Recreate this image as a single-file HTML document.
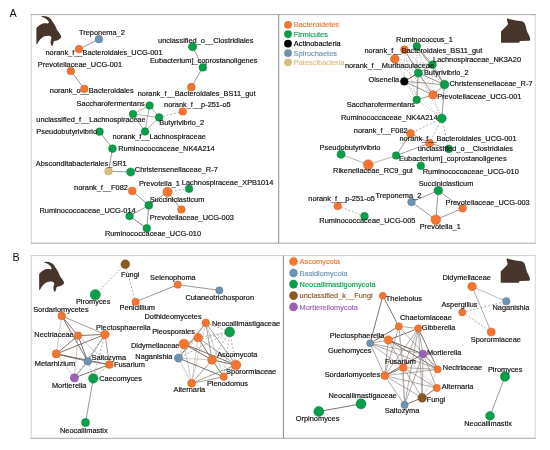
<!DOCTYPE html>
<html><head><meta charset="utf-8"><title>Figure</title>
<style>html,body{margin:0;padding:0;background:#fff}svg{display:block}text{font-family:"Liberation Sans",Arial,sans-serif}</style></head><body>
<svg width="550" height="450" viewBox="0 0 550 450">
<rect width="550" height="450" fill="#fff"/>
<g fill="none" stroke-width="1">
<line x1="31.3" y1="14" x2="31.3" y2="243.5" stroke="#d2d0d0"/>
<line x1="535.2" y1="14" x2="535.2" y2="243.5" stroke="#d6d4d4"/>
<line x1="30.8" y1="14.6" x2="535.7" y2="14.6" stroke="#a9a7a7"/>
<line x1="30.8" y1="243.2" x2="535.7" y2="243.2" stroke="#a9a7a7"/>
<line x1="278.7" y1="14.6" x2="278.7" y2="243.2" stroke="#8c8a8a"/>
<line x1="31.3" y1="255" x2="31.3" y2="438.8" stroke="#d2d0d0"/>
<line x1="535.2" y1="255" x2="535.2" y2="438.8" stroke="#d6d4d4"/>
<line x1="30.8" y1="255.6" x2="535.7" y2="255.6" stroke="#d0cece"/>
<line x1="30.8" y1="438.3" x2="535.7" y2="438.3" stroke="#a9a7a7"/>
<line x1="283.4" y1="255.6" x2="283.4" y2="438.3" stroke="#8c8a8a"/>
</g>
<text x="9.4" y="17.4" font-size="10.8" fill="#111">A</text>
<text x="12.5" y="260.8" font-size="10.8" fill="#111">B</text>
<path d="M193,105 C215,95 252,102 275,122 C292,138 300,158 312,172 C324,188 330,208 340,230 C350,250 370,268 377,285 C380,300 370,312 350,320 C335,326 318,326 310,332 C306,345 304,362 295,378 C284,370 278,352 281,330 C284,312 294,302 286,292 C272,278 245,280 225,287 C195,300 175,328 160,352 L150,364 L150,212 C160,200 175,187 190,179 C205,168 230,163 250,170 C260,172 268,165 262,152 C254,135 228,115 193,105 Z" fill="#47352c" transform="translate(20,5) scale(0.10909)"/>
<path d="M193,105 C215,95 252,102 275,122 C292,138 300,158 312,172 C324,188 330,208 340,230 C350,250 370,268 377,285 C380,300 370,312 350,320 C335,326 318,326 310,332 C306,345 304,362 295,378 C284,370 278,352 281,330 C284,312 294,302 286,292 C272,278 245,280 225,287 C195,300 175,328 160,352 L150,364 L150,212 C160,200 175,187 190,179 C205,168 230,163 250,170 C260,172 268,165 262,152 C254,135 228,115 193,105 Z" fill="#47352c" transform="translate(22.8,250.8) scale(0.10909)"/>
<path d="M172,103 C180,108 188,111 200,113 L260,125 L318,132 C335,136 347,150 352,165 C360,185 362,210 370,232 C378,250 392,275 400,298 C404,312 402,322 395,328 L300,331 L290,347 L110,347 L110,235 L165,180 C175,168 182,158 178,148 C172,135 165,120 172,103 Z" fill="#47352c" transform="translate(490,8) scale(0.1)"/>
<path d="M172,103 C180,108 188,111 200,113 L260,125 L318,132 C335,136 347,150 352,165 C360,185 362,210 370,232 C378,250 392,275 400,298 C404,312 402,322 395,328 L300,331 L290,347 L110,347 L110,235 L165,180 C175,168 182,158 178,148 C172,135 165,120 172,103 Z" fill="#47352c" transform="translate(489.7,248) scale(0.1)"/>
<g fill="none" stroke-linecap="butt">
<line x1="98.9" y1="39.2" x2="79.0" y2="49.1" stroke="#857d79" stroke-width="0.8"/>
<line x1="70.8" y1="71.0" x2="84.3" y2="88.9" stroke="#857d79" stroke-width="0.8"/>
<line x1="192.6" y1="46.7" x2="202.8" y2="67.4" stroke="#857d79" stroke-width="0.8"/>
<line x1="202.8" y1="67.4" x2="191.3" y2="87.1" stroke="#857d79" stroke-width="0.8"/>
<line x1="149.6" y1="105.5" x2="133" y2="114.1" stroke="#a09996" stroke-width="0.8"/>
<line x1="149.6" y1="105.5" x2="159.1" y2="117.4" stroke="#a09996" stroke-width="0.8"/>
<line x1="133" y1="114.1" x2="159.1" y2="117.4" stroke="#a09996" stroke-width="0.8"/>
<line x1="133" y1="114.1" x2="145" y2="131.5" stroke="#a09996" stroke-width="0.8"/>
<line x1="149.6" y1="105.5" x2="145" y2="131.5" stroke="#a09996" stroke-width="0.8"/>
<line x1="159.1" y1="117.4" x2="145" y2="131.5" stroke="#a09996" stroke-width="0.8"/>
<line x1="159.1" y1="117.4" x2="182.8" y2="111.5" stroke="#8f8884" stroke-width="0.7" stroke-dasharray="1.9 1.9"/>
<line x1="99.6" y1="131.7" x2="112.5" y2="148.6" stroke="#857d79" stroke-width="0.8"/>
<line x1="112.5" y1="148.6" x2="108.5" y2="171.2" stroke="#857d79" stroke-width="0.8"/>
<line x1="108.5" y1="171.2" x2="130.7" y2="172.0" stroke="#857d79" stroke-width="0.8"/>
<line x1="132.2" y1="190.9" x2="148.8" y2="205.3" stroke="#857d79" stroke-width="0.8"/>
<line x1="167.4" y1="191.9" x2="148.8" y2="205.3" stroke="#857d79" stroke-width="0.8"/>
<line x1="167.4" y1="191.9" x2="189.1" y2="188.8" stroke="#8f8884" stroke-width="0.7" stroke-dasharray="1.9 1.9"/>
<line x1="167.4" y1="191.9" x2="181.4" y2="209.5" stroke="#857d79" stroke-width="0.8"/>
<line x1="148.8" y1="205.3" x2="129.6" y2="216.1" stroke="#857d79" stroke-width="0.8"/>
<line x1="148.8" y1="205.3" x2="146.8" y2="228.3" stroke="#857d79" stroke-width="0.8"/>
<line x1="129.6" y1="216.1" x2="146.8" y2="228.3" stroke="#6b5f5a" stroke-width="0.8"/>
<line x1="341.1" y1="154.3" x2="368.3" y2="164.7" stroke="#a69f9b" stroke-width="0.8"/>
<line x1="368.3" y1="164.7" x2="396.1" y2="155.5" stroke="#a69f9b" stroke-width="0.8"/>
<line x1="396.1" y1="155.5" x2="410.5" y2="133.5" stroke="#857d79" stroke-width="0.8"/>
<line x1="396.1" y1="155.5" x2="429.6" y2="143.2" stroke="#857d79" stroke-width="0.8"/>
<line x1="410.5" y1="133.5" x2="429.6" y2="143.2" stroke="#857d79" stroke-width="0.8"/>
<line x1="429.6" y1="143.2" x2="448.8" y2="148.9" stroke="#857d79" stroke-width="0.8"/>
<line x1="441.8" y1="118.4" x2="444.5" y2="84.6" stroke="#857d79" stroke-width="0.8"/>
<line x1="404.3" y1="81.4" x2="444.5" y2="84.6" stroke="#857d79" stroke-width="0.8"/>
<line x1="418.4" y1="73.0" x2="416.7" y2="99.8" stroke="#857d79" stroke-width="0.8"/>
<line x1="418.4" y1="73.0" x2="433" y2="94.9" stroke="#857d79" stroke-width="0.8"/>
<line x1="432.6" y1="64.6" x2="418.4" y2="73.0" stroke="#857d79" stroke-width="0.8"/>
<line x1="432.6" y1="64.6" x2="444.5" y2="84.6" stroke="#857d79" stroke-width="0.8"/>
<line x1="404.3" y1="81.4" x2="433" y2="94.9" stroke="#857d79" stroke-width="0.8"/>
<line x1="444.5" y1="84.6" x2="433" y2="94.9" stroke="#857d79" stroke-width="0.8"/>
<line x1="416.7" y1="99.8" x2="433" y2="94.9" stroke="#857d79" stroke-width="0.8"/>
<line x1="404.4" y1="49.7" x2="418.4" y2="73.0" stroke="#857d79" stroke-width="0.8"/>
<line x1="416.8" y1="46.2" x2="444.5" y2="84.6" stroke="#857d79" stroke-width="0.8"/>
<line x1="416.8" y1="46.2" x2="432.6" y2="64.6" stroke="#857d79" stroke-width="0.8"/>
<line x1="438.3" y1="190.5" x2="411.5" y2="202.0" stroke="#857d79" stroke-width="0.8"/>
<line x1="438.3" y1="190.5" x2="435.8" y2="219.8" stroke="#857d79" stroke-width="0.8"/>
<line x1="438.3" y1="190.5" x2="462.6" y2="208.3" stroke="#857d79" stroke-width="0.8"/>
<line x1="411.5" y1="202.0" x2="435.8" y2="219.8" stroke="#857d79" stroke-width="0.8"/>
<line x1="435.8" y1="219.8" x2="462.6" y2="208.3" stroke="#857d79" stroke-width="0.8"/>
<line x1="418.4" y1="73.0" x2="444.5" y2="84.6" stroke="#857d79" stroke-width="0.8"/>
<line x1="404.3" y1="81.4" x2="418.4" y2="73.0" stroke="#4a3f3a" stroke-width="0.9"/>
<line x1="337.7" y1="206.0" x2="364.5" y2="216.2" stroke="#8f8884" stroke-width="0.7" stroke-dasharray="1.9 1.9"/>
<line x1="441.8" y1="118.4" x2="410.5" y2="133.5" stroke="#8f8884" stroke-width="0.7" stroke-dasharray="1.9 1.9"/>
<line x1="441.8" y1="118.4" x2="429.6" y2="143.2" stroke="#8f8884" stroke-width="0.7" stroke-dasharray="1.9 1.9"/>
<line x1="441.8" y1="118.4" x2="448.8" y2="148.9" stroke="#8f8884" stroke-width="0.7" stroke-dasharray="1.9 1.9"/>
<line x1="441.8" y1="118.4" x2="418.4" y2="73.0" stroke="#9a938f" stroke-width="0.55" stroke-dasharray="1.3 1.5"/>
<line x1="441.8" y1="118.4" x2="404.3" y2="81.4" stroke="#9a938f" stroke-width="0.55" stroke-dasharray="1.3 1.5"/>
<line x1="441.8" y1="118.4" x2="416.7" y2="99.8" stroke="#9a938f" stroke-width="0.55" stroke-dasharray="1.3 1.5"/>
<line x1="394.8" y1="59.0" x2="418.4" y2="73.0" stroke="#9a938f" stroke-width="0.55" stroke-dasharray="1.3 1.5"/>
<line x1="394.8" y1="59.0" x2="416.7" y2="99.8" stroke="#9a938f" stroke-width="0.55" stroke-dasharray="1.3 1.5"/>
<line x1="404.4" y1="49.7" x2="433" y2="94.9" stroke="#9a938f" stroke-width="0.55" stroke-dasharray="1.3 1.5"/>
<line x1="404.4" y1="49.7" x2="416.7" y2="99.8" stroke="#9a938f" stroke-width="0.55" stroke-dasharray="1.3 1.5"/>
<line x1="416.8" y1="46.2" x2="433" y2="94.9" stroke="#9a938f" stroke-width="0.55" stroke-dasharray="1.3 1.5"/>
<line x1="404.3" y1="81.4" x2="416.7" y2="99.8" stroke="#9a938f" stroke-width="0.55" stroke-dasharray="1.3 1.5"/>
<line x1="394.8" y1="59.0" x2="432.6" y2="64.6" stroke="#9a938f" stroke-width="0.55" stroke-dasharray="1.3 1.5"/>
<line x1="404.4" y1="49.7" x2="444.5" y2="84.6" stroke="#9a938f" stroke-width="0.55" stroke-dasharray="1.3 1.5"/>
<line x1="416.8" y1="46.2" x2="416.7" y2="99.8" stroke="#9a938f" stroke-width="0.55" stroke-dasharray="1.3 1.5"/>
<line x1="441.8" y1="118.4" x2="433" y2="94.9" stroke="#9a938f" stroke-width="0.55" stroke-dasharray="1.3 1.5"/>
<line x1="394.8" y1="59.0" x2="433" y2="94.9" stroke="#9a938f" stroke-width="0.55" stroke-dasharray="1.3 1.5"/>
<line x1="432.6" y1="64.6" x2="433" y2="94.9" stroke="#9a938f" stroke-width="0.55" stroke-dasharray="1.3 1.5"/>
<line x1="404.4" y1="49.7" x2="404.3" y2="81.4" stroke="#9a938f" stroke-width="0.55" stroke-dasharray="1.3 1.5"/>
<line x1="125.3" y1="264.2" x2="95.3" y2="294.6" stroke="#8f8884" stroke-width="0.7" stroke-dasharray="1.9 1.9"/>
<line x1="125.3" y1="264.2" x2="135.6" y2="301.9" stroke="#8f8884" stroke-width="0.7" stroke-dasharray="1.9 1.9"/>
<line x1="135.6" y1="301.9" x2="177.7" y2="284.7" stroke="#857d79" stroke-width="0.8"/>
<line x1="177.7" y1="284.7" x2="219.4" y2="290.3" stroke="#857d79" stroke-width="0.8"/>
<line x1="93.3" y1="378.4" x2="85.5" y2="422.5" stroke="#857d79" stroke-width="0.8"/>
<line x1="61.7" y1="315.9" x2="78" y2="335.6" stroke="#5f4f49" stroke-width="0.8"/>
<line x1="61.7" y1="315.9" x2="105" y2="334.4" stroke="#7d736e" stroke-width="0.7"/>
<line x1="61.7" y1="315.9" x2="56.3" y2="353.9" stroke="#bdb7b3" stroke-width="0.7"/>
<line x1="61.7" y1="315.9" x2="87.7" y2="361.3" stroke="#5f4f49" stroke-width="0.8"/>
<line x1="78" y1="335.6" x2="105" y2="334.4" stroke="#5f4f49" stroke-width="0.8"/>
<line x1="78" y1="335.6" x2="56.3" y2="353.9" stroke="#5f4f49" stroke-width="0.8"/>
<line x1="78" y1="335.6" x2="87.7" y2="361.3" stroke="#5f4f49" stroke-width="0.8"/>
<line x1="78" y1="335.6" x2="109.4" y2="364.6" stroke="#bdb7b3" stroke-width="0.7"/>
<line x1="78" y1="335.6" x2="74.4" y2="377.9" stroke="#bdb7b3" stroke-width="0.7"/>
<line x1="105" y1="334.4" x2="56.3" y2="353.9" stroke="#5f4f49" stroke-width="0.8"/>
<line x1="105" y1="334.4" x2="87.7" y2="361.3" stroke="#7d736e" stroke-width="0.7"/>
<line x1="105" y1="334.4" x2="109.4" y2="364.6" stroke="#7d736e" stroke-width="0.7"/>
<line x1="56.3" y1="353.9" x2="87.7" y2="361.3" stroke="#5f4f49" stroke-width="0.8"/>
<line x1="56.3" y1="353.9" x2="109.4" y2="364.6" stroke="#5f4f49" stroke-width="0.8"/>
<line x1="56.3" y1="353.9" x2="74.4" y2="377.9" stroke="#bdb7b3" stroke-width="0.7"/>
<line x1="87.7" y1="361.3" x2="74.4" y2="377.9" stroke="#7d736e" stroke-width="0.7"/>
<line x1="87.7" y1="361.3" x2="109.4" y2="364.6" stroke="#7d736e" stroke-width="0.7"/>
<line x1="109.4" y1="364.6" x2="74.4" y2="377.9" stroke="#5f4f49" stroke-width="0.8"/>
<line x1="105" y1="334.4" x2="74.4" y2="377.9" stroke="#8f8884" stroke-width="0.7" stroke-dasharray="1.9 1.9"/>
<line x1="105" y1="334.4" x2="93.3" y2="378.4" stroke="#8f8884" stroke-width="0.7" stroke-dasharray="1.9 1.9"/>
<line x1="87.7" y1="361.3" x2="93.3" y2="378.4" stroke="#8f8884" stroke-width="0.7" stroke-dasharray="1.9 1.9"/>
<line x1="109.4" y1="364.6" x2="93.3" y2="378.4" stroke="#8f8884" stroke-width="0.7" stroke-dasharray="1.9 1.9"/>
<line x1="205.8" y1="322.8" x2="178.5" y2="358.1" stroke="#5f4f49" stroke-width="0.8"/>
<line x1="205.8" y1="322.8" x2="212" y2="359.9" stroke="#7d736e" stroke-width="0.7"/>
<line x1="205.8" y1="322.8" x2="236" y2="365.0" stroke="#7d736e" stroke-width="0.7"/>
<line x1="205.8" y1="322.8" x2="191.6" y2="383.3" stroke="#bdb7b3" stroke-width="0.7"/>
<line x1="205.8" y1="322.8" x2="223.7" y2="376.8" stroke="#bdb7b3" stroke-width="0.7"/>
<line x1="198.1" y1="337.5" x2="184" y2="344.0" stroke="#bdb7b3" stroke-width="0.7"/>
<line x1="198.1" y1="337.5" x2="212" y2="359.9" stroke="#5f4f49" stroke-width="0.8"/>
<line x1="198.1" y1="337.5" x2="191.6" y2="383.3" stroke="#bdb7b3" stroke-width="0.7"/>
<line x1="184" y1="344.0" x2="212" y2="359.9" stroke="#5f4f49" stroke-width="0.8"/>
<line x1="184" y1="344.0" x2="236" y2="365.0" stroke="#5f4f49" stroke-width="0.8"/>
<line x1="184" y1="344.0" x2="191.6" y2="383.3" stroke="#bdb7b3" stroke-width="0.7"/>
<line x1="178.5" y1="358.1" x2="223.7" y2="376.8" stroke="#5f4f49" stroke-width="0.8"/>
<line x1="178.5" y1="358.1" x2="191.6" y2="383.3" stroke="#bdb7b3" stroke-width="0.7"/>
<line x1="178.5" y1="358.1" x2="212" y2="359.9" stroke="#bdb7b3" stroke-width="0.7"/>
<line x1="212" y1="359.9" x2="236" y2="365.0" stroke="#5f4f49" stroke-width="0.8"/>
<line x1="212" y1="359.9" x2="223.7" y2="376.8" stroke="#5f4f49" stroke-width="0.8"/>
<line x1="212" y1="359.9" x2="191.6" y2="383.3" stroke="#7d736e" stroke-width="0.7"/>
<line x1="236" y1="365.0" x2="223.7" y2="376.8" stroke="#7d736e" stroke-width="0.7"/>
<line x1="223.7" y1="376.8" x2="191.6" y2="383.3" stroke="#7d736e" stroke-width="0.7"/>
<line x1="191.6" y1="383.3" x2="236" y2="365.0" stroke="#7d736e" stroke-width="0.7"/>
<line x1="198.1" y1="337.5" x2="236" y2="365.0" stroke="#7d736e" stroke-width="0.7"/>
<line x1="229.7" y1="331.9" x2="198.1" y2="337.5" stroke="#8f8884" stroke-width="0.7" stroke-dasharray="1.9 1.9"/>
<line x1="229.7" y1="331.9" x2="184" y2="344.0" stroke="#8f8884" stroke-width="0.7" stroke-dasharray="1.9 1.9"/>
<line x1="229.7" y1="331.9" x2="212" y2="359.9" stroke="#8f8884" stroke-width="0.7" stroke-dasharray="1.9 1.9"/>
<line x1="229.7" y1="331.9" x2="236" y2="365.0" stroke="#8f8884" stroke-width="0.7" stroke-dasharray="1.9 1.9"/>
<line x1="229.7" y1="331.9" x2="223.7" y2="376.8" stroke="#8f8884" stroke-width="0.7" stroke-dasharray="1.9 1.9"/>
<line x1="229.7" y1="331.9" x2="205.8" y2="322.8" stroke="#8f8884" stroke-width="0.7" stroke-dasharray="1.9 1.9"/>
<line x1="229.7" y1="331.9" x2="178.5" y2="358.1" stroke="#8f8884" stroke-width="0.7" stroke-dasharray="1.9 1.9"/>
<line x1="184" y1="344.0" x2="178.5" y2="358.1" stroke="#8f8884" stroke-width="0.7" stroke-dasharray="1.9 1.9"/>
<line x1="198.1" y1="337.5" x2="178.5" y2="358.1" stroke="#8f8884" stroke-width="0.7" stroke-dasharray="1.9 1.9"/>
<line x1="318.8" y1="411.5" x2="361" y2="403.9" stroke="#5f4f49" stroke-width="0.8"/>
<line x1="472.1" y1="286.5" x2="506.3" y2="301.3" stroke="#a39c98" stroke-width="0.7"/>
<line x1="472.1" y1="286.5" x2="491.2" y2="332.0" stroke="#8f8884" stroke-width="0.7"/>
<line x1="462.3" y1="312.3" x2="506.3" y2="301.3" stroke="#8f8884" stroke-width="0.7" stroke-dasharray="1.9 1.9"/>
<line x1="462.3" y1="312.3" x2="491.2" y2="332.0" stroke="#8f8884" stroke-width="0.7" stroke-dasharray="1.9 1.9"/>
<line x1="505" y1="376.6" x2="490" y2="415.9" stroke="#857d79" stroke-width="0.8"/>
<line x1="382.8" y1="295.8" x2="370.1" y2="343.3" stroke="#5f4f49" stroke-width="0.8"/>
<line x1="382.8" y1="295.8" x2="398.8" y2="326.4" stroke="#5f4f49" stroke-width="0.8"/>
<line x1="398.8" y1="326.4" x2="370.1" y2="343.3" stroke="#5f4f49" stroke-width="0.8"/>
<line x1="418.3" y1="328.4" x2="388.3" y2="340.0" stroke="#5f4f49" stroke-width="0.8"/>
<line x1="388.3" y1="340.0" x2="423" y2="354.0" stroke="#3a2d28" stroke-width="0.8"/>
<line x1="388.3" y1="340.0" x2="437.8" y2="369.4" stroke="#5f4f49" stroke-width="0.8"/>
<line x1="388.3" y1="340.0" x2="370.1" y2="343.3" stroke="#7d736e" stroke-width="0.6"/>
<line x1="398.8" y1="326.4" x2="418.3" y2="328.4" stroke="#7d736e" stroke-width="0.6"/>
<line x1="398.8" y1="326.4" x2="403.2" y2="367.6" stroke="#7d736e" stroke-width="0.6"/>
<line x1="398.8" y1="326.4" x2="384.7" y2="375.7" stroke="#7d736e" stroke-width="0.6"/>
<line x1="398.8" y1="326.4" x2="437.8" y2="369.4" stroke="#7d736e" stroke-width="0.6"/>
<line x1="398.8" y1="326.4" x2="404.6" y2="404.9" stroke="#bdb7b3" stroke-width="0.6"/>
<line x1="418.3" y1="328.4" x2="437.8" y2="369.4" stroke="#5f4f49" stroke-width="0.8"/>
<line x1="418.3" y1="328.4" x2="403.2" y2="367.6" stroke="#7d736e" stroke-width="0.6"/>
<line x1="418.3" y1="328.4" x2="384.7" y2="375.7" stroke="#7d736e" stroke-width="0.6"/>
<line x1="418.3" y1="328.4" x2="404.6" y2="404.9" stroke="#7d736e" stroke-width="0.6"/>
<line x1="418.3" y1="328.4" x2="422.2" y2="397.8" stroke="#7d736e" stroke-width="0.6"/>
<line x1="418.3" y1="328.4" x2="423" y2="354.0" stroke="#7d736e" stroke-width="0.6"/>
<line x1="370.1" y1="343.3" x2="423" y2="354.0" stroke="#7d736e" stroke-width="0.6"/>
<line x1="370.1" y1="343.3" x2="403.2" y2="367.6" stroke="#7d736e" stroke-width="0.6"/>
<line x1="370.1" y1="343.3" x2="384.7" y2="375.7" stroke="#7d736e" stroke-width="0.6"/>
<line x1="370.1" y1="343.3" x2="437.8" y2="369.4" stroke="#7d736e" stroke-width="0.6"/>
<line x1="388.3" y1="340.0" x2="384.7" y2="375.7" stroke="#7d736e" stroke-width="0.6"/>
<line x1="388.3" y1="340.0" x2="403.2" y2="367.6" stroke="#7d736e" stroke-width="0.6"/>
<line x1="384.7" y1="375.7" x2="403.2" y2="367.6" stroke="#5f4f49" stroke-width="0.8"/>
<line x1="384.7" y1="375.7" x2="423" y2="354.0" stroke="#5f4f49" stroke-width="0.8"/>
<line x1="384.7" y1="375.7" x2="437.8" y2="369.4" stroke="#7d736e" stroke-width="0.6"/>
<line x1="384.7" y1="375.7" x2="436.8" y2="388.0" stroke="#7d736e" stroke-width="0.6"/>
<line x1="384.7" y1="375.7" x2="422.2" y2="397.8" stroke="#7d736e" stroke-width="0.6"/>
<line x1="384.7" y1="375.7" x2="404.6" y2="404.9" stroke="#7d736e" stroke-width="0.6"/>
<line x1="403.2" y1="367.6" x2="437.8" y2="369.4" stroke="#7d736e" stroke-width="0.6"/>
<line x1="403.2" y1="367.6" x2="436.8" y2="388.0" stroke="#7d736e" stroke-width="0.6"/>
<line x1="403.2" y1="367.6" x2="422.2" y2="397.8" stroke="#7d736e" stroke-width="0.6"/>
<line x1="403.2" y1="367.6" x2="404.6" y2="404.9" stroke="#7d736e" stroke-width="0.6"/>
<line x1="423" y1="354.0" x2="437.8" y2="369.4" stroke="#7d736e" stroke-width="0.6"/>
<line x1="423" y1="354.0" x2="422.2" y2="397.8" stroke="#7d736e" stroke-width="0.6"/>
<line x1="423" y1="354.0" x2="404.6" y2="404.9" stroke="#7d736e" stroke-width="0.6"/>
<line x1="423" y1="354.0" x2="436.8" y2="388.0" stroke="#7d736e" stroke-width="0.6"/>
<line x1="436.8" y1="388.0" x2="422.2" y2="397.8" stroke="#5f4f49" stroke-width="0.8"/>
<line x1="422.2" y1="397.8" x2="404.6" y2="404.9" stroke="#5f4f49" stroke-width="0.8"/>
<line x1="437.8" y1="369.4" x2="422.2" y2="397.8" stroke="#bdb7b3" stroke-width="0.6"/>
<line x1="388.3" y1="340.0" x2="436.8" y2="388.0" stroke="#bdb7b3" stroke-width="0.6"/>
</g>
<g>
<circle cx="98.9" cy="39.2" r="3.85" fill="#6E93B0" stroke="#4f728f" stroke-width="0.45"/>
<circle cx="79.0" cy="49.1" r="3.85" fill="#F4752F" stroke="#cf5a1c" stroke-width="0.45"/>
<circle cx="70.8" cy="71.0" r="3.85" fill="#F4752F" stroke="#cf5a1c" stroke-width="0.45"/>
<circle cx="84.3" cy="88.9" r="3.85" fill="#F4752F" stroke="#cf5a1c" stroke-width="0.45"/>
<circle cx="192.6" cy="46.7" r="4.15" fill="#0A9E49" stroke="#0a7d3b" stroke-width="0.45"/>
<circle cx="202.8" cy="67.4" r="3.85" fill="#0A9E49" stroke="#0a7d3b" stroke-width="0.45"/>
<circle cx="191.3" cy="87.1" r="3.95" fill="#F4752F" stroke="#cf5a1c" stroke-width="0.45"/>
<circle cx="149.6" cy="105.5" r="3.85" fill="#0A9E49" stroke="#0a7d3b" stroke-width="0.45"/>
<circle cx="133" cy="114.1" r="3.85" fill="#0A9E49" stroke="#0a7d3b" stroke-width="0.45"/>
<circle cx="159.1" cy="117.4" r="3.85" fill="#0A9E49" stroke="#0a7d3b" stroke-width="0.45"/>
<circle cx="145" cy="131.5" r="3.85" fill="#0A9E49" stroke="#0a7d3b" stroke-width="0.45"/>
<circle cx="182.8" cy="111.5" r="3.85" fill="#F4752F" stroke="#cf5a1c" stroke-width="0.45"/>
<circle cx="99.6" cy="131.7" r="3.85" fill="#0A9E49" stroke="#0a7d3b" stroke-width="0.45"/>
<circle cx="112.5" cy="148.6" r="3.95" fill="#0A9E49" stroke="#0a7d3b" stroke-width="0.45"/>
<circle cx="108.5" cy="171.2" r="3.85" fill="#D6BD82" stroke="#b59c63" stroke-width="0.45"/>
<circle cx="130.7" cy="172.0" r="4.05" fill="#0A9E49" stroke="#0a7d3b" stroke-width="0.45"/>
<circle cx="132.2" cy="190.9" r="3.95" fill="#F4752F" stroke="#cf5a1c" stroke-width="0.45"/>
<circle cx="167.4" cy="191.9" r="4.65" fill="#F4752F" stroke="#cf5a1c" stroke-width="0.45"/>
<circle cx="189.1" cy="188.8" r="3.85" fill="#0A9E49" stroke="#0a7d3b" stroke-width="0.45"/>
<circle cx="148.8" cy="205.3" r="3.95" fill="#0A9E49" stroke="#0a7d3b" stroke-width="0.45"/>
<circle cx="181.4" cy="209.5" r="3.85" fill="#F4752F" stroke="#cf5a1c" stroke-width="0.45"/>
<circle cx="129.6" cy="216.1" r="3.85" fill="#0A9E49" stroke="#0a7d3b" stroke-width="0.45"/>
<circle cx="146.8" cy="228.3" r="3.85" fill="#0A9E49" stroke="#0a7d3b" stroke-width="0.45"/>
<circle cx="416.8" cy="46.2" r="3.85" fill="#0A9E49" stroke="#0a7d3b" stroke-width="0.45"/>
<circle cx="404.4" cy="49.7" r="3.95" fill="#F4752F" stroke="#cf5a1c" stroke-width="0.45"/>
<circle cx="394.8" cy="59.0" r="4.35" fill="#F4752F" stroke="#cf5a1c" stroke-width="0.45"/>
<circle cx="432.6" cy="64.6" r="3.85" fill="#0A9E49" stroke="#0a7d3b" stroke-width="0.45"/>
<circle cx="418.4" cy="73.0" r="4.05" fill="#0A9E49" stroke="#0a7d3b" stroke-width="0.45"/>
<circle cx="404.3" cy="81.4" r="3.85" fill="#000000" stroke="#000000" stroke-width="0.45"/>
<circle cx="444.5" cy="84.6" r="4.45" fill="#0A9E49" stroke="#0a7d3b" stroke-width="0.45"/>
<circle cx="433" cy="94.9" r="4.05" fill="#F4752F" stroke="#cf5a1c" stroke-width="0.45"/>
<circle cx="416.7" cy="99.8" r="3.85" fill="#0A9E49" stroke="#0a7d3b" stroke-width="0.45"/>
<circle cx="441.8" cy="118.4" r="4.45" fill="#0A9E49" stroke="#0a7d3b" stroke-width="0.45"/>
<circle cx="410.5" cy="133.5" r="3.95" fill="#F4752F" stroke="#cf5a1c" stroke-width="0.45"/>
<circle cx="429.6" cy="143.2" r="3.85" fill="#F4752F" stroke="#cf5a1c" stroke-width="0.45"/>
<circle cx="448.8" cy="148.9" r="3.85" fill="#0A9E49" stroke="#0a7d3b" stroke-width="0.45"/>
<circle cx="396.1" cy="155.5" r="3.85" fill="#0A9E49" stroke="#0a7d3b" stroke-width="0.45"/>
<circle cx="420.8" cy="165.8" r="3.85" fill="#0A9E49" stroke="#0a7d3b" stroke-width="0.45"/>
<circle cx="341.1" cy="154.3" r="4.05" fill="#0A9E49" stroke="#0a7d3b" stroke-width="0.45"/>
<circle cx="368.3" cy="164.7" r="4.95" fill="#F4752F" stroke="#cf5a1c" stroke-width="0.45"/>
<circle cx="438.3" cy="190.5" r="4.35" fill="#0A9E49" stroke="#0a7d3b" stroke-width="0.45"/>
<circle cx="411.5" cy="202.0" r="3.85" fill="#6E93B0" stroke="#4f728f" stroke-width="0.45"/>
<circle cx="462.6" cy="208.3" r="3.85" fill="#F4752F" stroke="#cf5a1c" stroke-width="0.45"/>
<circle cx="435.8" cy="219.8" r="4.85" fill="#F4752F" stroke="#cf5a1c" stroke-width="0.45"/>
<circle cx="337.7" cy="206.0" r="3.85" fill="#F4752F" stroke="#cf5a1c" stroke-width="0.45"/>
<circle cx="364.5" cy="216.2" r="3.85" fill="#0A9E49" stroke="#0a7d3b" stroke-width="0.45"/>
<circle cx="125.3" cy="264.2" r="4.35" fill="#8A5A25" stroke="#6b431a" stroke-width="0.45"/>
<circle cx="95.3" cy="294.6" r="5.15" fill="#0A9E49" stroke="#0a7d3b" stroke-width="0.45"/>
<circle cx="135.6" cy="301.9" r="3.65" fill="#F4752F" stroke="#cf5a1c" stroke-width="0.45"/>
<circle cx="177.7" cy="284.7" r="3.65" fill="#F4752F" stroke="#cf5a1c" stroke-width="0.45"/>
<circle cx="219.4" cy="290.3" r="3.65" fill="#6E93B0" stroke="#4f728f" stroke-width="0.45"/>
<circle cx="61.7" cy="315.9" r="3.85" fill="#F4752F" stroke="#cf5a1c" stroke-width="0.45"/>
<circle cx="78" cy="335.6" r="3.85" fill="#F4752F" stroke="#cf5a1c" stroke-width="0.45"/>
<circle cx="105" cy="334.4" r="4.25" fill="#F4752F" stroke="#cf5a1c" stroke-width="0.45"/>
<circle cx="56.3" cy="353.9" r="4.05" fill="#F4752F" stroke="#cf5a1c" stroke-width="0.45"/>
<circle cx="87.7" cy="361.3" r="3.85" fill="#6E93B0" stroke="#4f728f" stroke-width="0.45"/>
<circle cx="109.4" cy="364.6" r="3.95" fill="#F4752F" stroke="#cf5a1c" stroke-width="0.45"/>
<circle cx="74.4" cy="377.9" r="4.05" fill="#9C60B8" stroke="#7c4796" stroke-width="0.45"/>
<circle cx="93.3" cy="378.4" r="4.75" fill="#0A9E49" stroke="#0a7d3b" stroke-width="0.45"/>
<circle cx="85.5" cy="422.5" r="4.05" fill="#0A9E49" stroke="#0a7d3b" stroke-width="0.45"/>
<circle cx="205.8" cy="322.8" r="3.85" fill="#F4752F" stroke="#cf5a1c" stroke-width="0.45"/>
<circle cx="229.7" cy="331.9" r="4.95" fill="#0A9E49" stroke="#0a7d3b" stroke-width="0.45"/>
<circle cx="198.1" cy="337.5" r="4.25" fill="#F4752F" stroke="#cf5a1c" stroke-width="0.45"/>
<circle cx="184" cy="344.0" r="4.85" fill="#F4752F" stroke="#cf5a1c" stroke-width="0.45"/>
<circle cx="178.5" cy="358.1" r="4.15" fill="#6E93B0" stroke="#4f728f" stroke-width="0.45"/>
<circle cx="212" cy="359.9" r="4.45" fill="#F4752F" stroke="#cf5a1c" stroke-width="0.45"/>
<circle cx="236" cy="365.0" r="4.85" fill="#F4752F" stroke="#cf5a1c" stroke-width="0.45"/>
<circle cx="223.7" cy="376.8" r="3.75" fill="#F4752F" stroke="#cf5a1c" stroke-width="0.45"/>
<circle cx="191.6" cy="383.3" r="3.95" fill="#F4752F" stroke="#cf5a1c" stroke-width="0.45"/>
<circle cx="382.8" cy="295.8" r="3.55" fill="#F4752F" stroke="#cf5a1c" stroke-width="0.45"/>
<circle cx="398.8" cy="326.4" r="3.55" fill="#F4752F" stroke="#cf5a1c" stroke-width="0.45"/>
<circle cx="418.3" cy="328.4" r="3.55" fill="#F4752F" stroke="#cf5a1c" stroke-width="0.45"/>
<circle cx="388.3" cy="340.0" r="4.15" fill="#F4752F" stroke="#cf5a1c" stroke-width="0.45"/>
<circle cx="370.1" cy="343.3" r="3.55" fill="#6E93B0" stroke="#4f728f" stroke-width="0.45"/>
<circle cx="423" cy="354.0" r="3.85" fill="#9C60B8" stroke="#7c4796" stroke-width="0.45"/>
<circle cx="403.2" cy="367.6" r="3.85" fill="#F4752F" stroke="#cf5a1c" stroke-width="0.45"/>
<circle cx="437.8" cy="369.4" r="3.55" fill="#F4752F" stroke="#cf5a1c" stroke-width="0.45"/>
<circle cx="384.7" cy="375.7" r="3.85" fill="#F4752F" stroke="#cf5a1c" stroke-width="0.45"/>
<circle cx="436.8" cy="388.0" r="3.65" fill="#F4752F" stroke="#cf5a1c" stroke-width="0.45"/>
<circle cx="422.2" cy="397.8" r="4.35" fill="#8A5A25" stroke="#6b431a" stroke-width="0.45"/>
<circle cx="404.6" cy="404.9" r="3.65" fill="#6E93B0" stroke="#4f728f" stroke-width="0.45"/>
<circle cx="361" cy="403.9" r="5.05" fill="#0A9E49" stroke="#0a7d3b" stroke-width="0.45"/>
<circle cx="318.8" cy="411.5" r="5.05" fill="#0A9E49" stroke="#0a7d3b" stroke-width="0.45"/>
<circle cx="472.1" cy="286.5" r="4.35" fill="#F4752F" stroke="#cf5a1c" stroke-width="0.45"/>
<circle cx="506.3" cy="301.3" r="3.75" fill="#6E93B0" stroke="#4f728f" stroke-width="0.45"/>
<circle cx="462.3" cy="312.3" r="3.65" fill="#F4752F" stroke="#cf5a1c" stroke-width="0.45"/>
<circle cx="491.2" cy="332.0" r="4.05" fill="#F4752F" stroke="#cf5a1c" stroke-width="0.45"/>
<circle cx="505" cy="376.6" r="4.75" fill="#0A9E49" stroke="#0a7d3b" stroke-width="0.45"/>
<circle cx="490" cy="415.9" r="4.45" fill="#0A9E49" stroke="#0a7d3b" stroke-width="0.45"/>
</g>
<circle cx="288" cy="24.8" r="3.9" fill="#F4752F"/><text x="293.8" y="27.4" font-size="7.4" fill="#F4752F" stroke="#F4752F" stroke-width="0.15">Bacteroidetes</text>
<circle cx="288" cy="34.1" r="3.9" fill="#0A9E49"/><text x="293.8" y="36.7" font-size="7.4" fill="#0A9E49" stroke="#0A9E49" stroke-width="0.15">Firmicutes</text>
<circle cx="288" cy="43.6" r="3.9" fill="#000000"/><text x="293.8" y="46.2" font-size="7.4" fill="#000000" stroke="#000000" stroke-width="0.15">Actinobacteria</text>
<circle cx="288" cy="53.1" r="3.9" fill="#6E93B0"/><text x="293.8" y="55.7" font-size="7.4" fill="#6E93B0" stroke="#6E93B0" stroke-width="0.15">Spirochaetes</text>
<circle cx="288" cy="62.3" r="3.9" fill="#D6BD82"/><text x="293.8" y="64.9" font-size="7.4" fill="#D6BD82" stroke="#D6BD82" stroke-width="0.15">Patescibacteria</text>
<circle cx="293.5" cy="261.5" r="4.3" fill="#F4752F"/><text x="299.6" y="264.1" font-size="7.4" fill="#F4752F" stroke="#F4752F" stroke-width="0.15">Ascomycota</text>
<circle cx="293.5" cy="273" r="4.3" fill="#6E93B0"/><text x="299.6" y="275.6" font-size="7.4" fill="#6E93B0" stroke="#6E93B0" stroke-width="0.15">Basidiomycota</text>
<circle cx="293.5" cy="284.1" r="4.3" fill="#0A9E49"/><text x="299.6" y="286.7" font-size="7.4" fill="#0A9E49" stroke="#0A9E49" stroke-width="0.15">Neocallimastigomycota</text>
<circle cx="293.5" cy="295.6" r="4.3" fill="#8A5A25"/><text x="299.6" y="298.2" font-size="7.4" fill="#8A5A25" stroke="#8A5A25" stroke-width="0.15">unclassified_k__Fungi</text>
<circle cx="293.5" cy="306.9" r="4.3" fill="#9C60B8"/><text x="299.6" y="309.5" font-size="7.4" fill="#9C60B8" stroke="#9C60B8" stroke-width="0.15">Mortierellomycota</text>
<g font-size="7.4" fill="#111" stroke="#111" stroke-width="0.18">
<text x="79" y="35.3">Treponema_2</text>
<text x="45.5" y="55.0">norank_f__Bacteroidales_UCG-001</text>
<text x="37.8" y="66.5">Prevotellaceae_UCG-001</text>
<text x="49.8" y="93.2">norank_o__Bacteroidales</text>
<text x="158.1" y="42.7">unclassified_o__Clostridiales</text>
<text x="149.9" y="62.6">Eubacterium]_coprostanoligenes</text>
<text x="137.7" y="96.4">norank_f__Bacteroidales_BS11_gut</text>
<text x="164.1" y="107.3">norank_f__p-251-o5</text>
<text x="76.6" y="106.0">Saccharofermentans</text>
<text x="36.3" y="122.1">unclassified_f__Lachnospiraceae</text>
<text x="159.3" y="125.4">Butyrivibrio_2</text>
<text x="112.6" y="139.0">norank_f__Lachnospiraceae</text>
<text x="36.3" y="134.4">Pseudobutyrivibrio</text>
<text x="118.2" y="150.7">Ruminococcaceae_NK4A214</text>
<text x="35.8" y="166.0">Absconditabacteriales_SR1</text>
<text x="134.8" y="172.4">Christensenellaceae_R-7</text>
<text x="74.1" y="189.8">norank_f__F082</text>
<text x="138.9" y="186.0">Prevotella_1</text>
<text x="181.8" y="184.8">Lachnospiraceae_XPB1014</text>
<text x="149.7" y="202.4">Succiniclasticum</text>
<text x="149.7" y="219.5">Prevotellaceae_UCG-003</text>
<text x="39.5" y="212.6">Ruminococcaceae_UCG-014</text>
<text x="104.9" y="236.1">Ruminococcaceae_UCG-010</text>
<text x="396.1" y="42.1">Ruminococcus_1</text>
<text x="364.5" y="53.2">norank_f__Bacteroidales_BS11_gut</text>
<text x="433.1" y="61.8">Lachnospiraceae_NK3A20</text>
<text x="344.9" y="67.8">norank_f__Muribaculaceae</text>
<text x="423.9" y="74.6">Butyrivibrio_2</text>
<text x="368.4" y="82.0">Olsenella</text>
<text x="449.5" y="85.6">Christensenellaceae_R-7</text>
<text x="437.2" y="98.9">Prevotellaceae_UCG-001</text>
<text x="346.8" y="106.6">Saccharofermentans</text>
<text x="341" y="119.8">Ruminococcaceae_NK4A214</text>
<text x="353.8" y="132.9">norank_f__F082</text>
<text x="399.5" y="140.9">norank_f__Bacteroidales_UCG-001</text>
<text x="417.7" y="150.7">unclassified_o__Clostridiales</text>
<text x="319.6" y="150.2">Pseudobutyrivibrio</text>
<text x="399" y="160.7">Eubacterium]_coprostanoligenes</text>
<text x="333.1" y="173.0">Rikenellaceae_RC9_gut</text>
<text x="422.7" y="174.4">Ruminococcaceae_UCG-010</text>
<text x="418.7" y="186.0">Succiniclasticum</text>
<text x="375.5" y="197.6">Treponema_2</text>
<text x="308.3" y="200.7">norank_f__p-251-o5</text>
<text x="445.5" y="204.9">Prevotellaceae_UCG-003</text>
<text x="319.3" y="222.9">Ruminococcaceae_UCG-005</text>
<text x="419.7" y="228.6">Prevotella_1</text>
<text x="121" y="277.3">Fungi</text>
<text x="75.9" y="303.9">Piromyces</text>
<text x="119.6" y="310.4">Penicillium</text>
<text x="150.1" y="280.2">Selenophoma</text>
<text x="185.4" y="299.9">Cutaneotrichosporon</text>
<text x="33.2" y="312.1">Sordariomycetes</text>
<text x="96" y="329.6">Plectosphaerella</text>
<text x="34.3" y="337.0">Nectriaceae</text>
<text x="91.5" y="359.9">Saitozyma</text>
<text x="34.8" y="365.5">Metarhizium</text>
<text x="114" y="367.0">Fusarium</text>
<text x="99.2" y="380.8">Caecomyces</text>
<text x="51.9" y="387.5">Mortierella</text>
<text x="60" y="432.9">Neocallimastix</text>
<text x="144.5" y="319.3">Dothideomycetes</text>
<text x="212" y="325.5">Neocallimastigaceae</text>
<text x="152.2" y="333.8">Pleosporales</text>
<text x="131" y="347.6">Didymellaceae</text>
<text x="135.3" y="359.0">Naganishia</text>
<text x="217.2" y="357.3">Ascomycota</text>
<text x="226.1" y="374.2">Sporormiaceae</text>
<text x="206.9" y="385.7">Plenodomus</text>
<text x="173.5" y="391.6">Alternaria</text>
<text x="385.8" y="301.4">Thelebolus</text>
<text x="400" y="320.4">Chaetomiaceae</text>
<text x="421.8" y="330.4">Gibberella</text>
<text x="329.8" y="337.7">Plectosphaerella</text>
<text x="328" y="352.8">Guehomyces</text>
<text x="426.9" y="355.2">Mortierella</text>
<text x="385" y="363.6">Fusarium</text>
<text x="442.8" y="369.6">Nectriaceae</text>
<text x="324.7" y="377.0">Sordariomycetes</text>
<text x="441.8" y="389.4">Alternaria</text>
<text x="426.7" y="401.8">Fungi</text>
<text x="384.8" y="413.0">Saitozyma</text>
<text x="328.5" y="397.9">Neocallimastigaceae</text>
<text x="295.8" y="421.1">Orpinomyces</text>
<text x="442.4" y="279.9">Didymellaceae</text>
<text x="492.5" y="310.1">Naganishia</text>
<text x="441.4" y="306.9">Aspergillus</text>
<text x="470.8" y="341.5">Sporormiaceae</text>
<text x="487.9" y="371.6">Piromyces</text>
<text x="464.2" y="426.3">Neocallimastix</text>
</g>
</svg></body></html>
